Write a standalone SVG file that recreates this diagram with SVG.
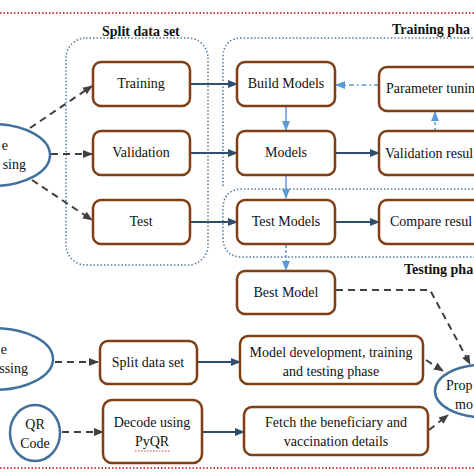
<svg xmlns="http://www.w3.org/2000/svg" width="474" height="474" viewBox="0 0 474 474">
<style>
.box{fill:#fff;stroke:#7f3f12;stroke-width:2.5}
.ell{fill:#fff;stroke:#41719c;stroke-width:2.5}
.t{font-family:"Liberation Serif","Times New Roman",serif;font-size:14px;fill:#111;text-anchor:middle}
.ts{font-family:"Liberation Serif","Times New Roman",serif;font-size:14px;fill:#111}
.h{font-family:"Liberation Serif","Times New Roman",serif;font-size:14px;font-weight:bold;fill:#111}
.cont{fill:none;stroke:#5a7a95;stroke-width:1.5;stroke-dasharray:1.5 2}
.red{stroke:#c00000;stroke-width:1.5;stroke-dasharray:1.5 2}
.solid{fill:none;stroke:#2d4e6e;stroke-width:2;marker-end:url(#ad)}
.dash{fill:none;stroke:#404040;stroke-width:2;stroke-dasharray:7 5;marker-end:url(#ag)}
.lb{fill:none;stroke:#5b9bd5;stroke-width:1.5;marker-end:url(#al)}
</style>
<defs>
<marker id="ad" markerWidth="10" markerHeight="10" refX="9" refY="5" orient="auto" markerUnits="userSpaceOnUse"><path d="M0,1 L10,5 L0,9 Z" fill="#2d4e6e"/></marker>
<marker id="ag" markerWidth="10" markerHeight="10" refX="9" refY="5" orient="auto" markerUnits="userSpaceOnUse"><path d="M0,1 L10,5 L0,9 Z" fill="#404040"/></marker>
<marker id="al" markerWidth="10" markerHeight="10" refX="9" refY="5" orient="auto" markerUnits="userSpaceOnUse"><path d="M0,1 L10,5 L0,9 Z" fill="#5b9bd5"/></marker>
</defs>
<rect width="474" height="474" fill="#fff"/>
<line x1="0" y1="13" x2="474" y2="13" class="red"/>
<line x1="0" y1="468" x2="474" y2="468" class="red"/>

<g id="containers">
<rect x="66" y="38" width="142" height="227" rx="20" class="cont"/>
<path d="M223,186 V58 Q223,38 243,38 H480" class="cont"/>
<path d="M480,189 H243 Q223,189 223,209 V237 Q223,257 243,257 H480" class="cont"/>
<text x="102" y="36" class="h">Split data set</text>
<text x="392" y="34" class="h">Training pha</text>
<text x="404" y="274" class="h">Testing pha</text>
</g>

<g id="connectors">
<path d="M30,128 L92,86" class="dash"/>
<path d="M51,154 L92,154" class="dash"/>
<path d="M32,180 L92,220" class="dash"/>
<path d="M191,84 L237,84" class="solid"/>
<path d="M191,153 L237,153" class="solid"/>
<path d="M191,222 L237,222" class="solid"/>
<path d="M336,153 L379,153" class="solid"/>
<path d="M336,222 L379,222" class="solid"/>
<path d="M286,107 L286,130" class="lb"/>
<path d="M379,85 L336,85" class="lb" stroke-dasharray="5 3 1.5 3"/>
<path d="M435,131 L435,112" class="lb" stroke-dasharray="3 3"/>
<path d="M286,176 L286,198" class="lb"/>
<path d="M286,245 L286,270" class="lb" stroke-dasharray="3 2"/>
<path d="M336,290 L430,290 L470,364" class="dash"/>
<path d="M55,362 L98,362" class="dash"/>
<path d="M62,432 L103,432" class="dash"/>
<path d="M198,362 L240,362" class="solid"/>
<path d="M203,432 L244,432" class="solid"/>
<path d="M426,360 L443,371" class="dash"/>
<path d="M429,430 L448,415" class="dash"/>
</g>

<g id="n-pre1"><ellipse cx="-8" cy="155" rx="58" ry="31" class="ell"/><text x="8" y="150" class="ts" text-anchor="end">e</text><text x="26" y="169" class="ts" text-anchor="end">sing</text></g>
<g id="n-training"><rect x="93" y="62" width="97" height="44" rx="8" class="box"/><text x="141" y="88" class="t">Training</text></g>
<g id="n-validation"><rect x="93" y="131" width="97" height="44" rx="8" class="box"/><text x="141" y="157" class="t">Validation</text></g>
<g id="n-test"><rect x="93" y="200" width="97" height="44" rx="8" class="box"/><text x="141" y="226" class="t">Test</text></g>
<g id="n-build"><rect x="237" y="62" width="98" height="44" rx="8" class="box"/><text x="286" y="88" class="t">Build Models</text></g>
<g id="n-models"><rect x="237" y="131" width="98" height="44" rx="8" class="box"/><text x="286" y="157" class="t">Models</text></g>
<g id="n-testmodels"><rect x="237" y="200" width="98" height="44" rx="8" class="box"/><text x="286" y="226" class="t">Test Models</text></g>
<g id="n-param"><rect x="379" y="67" width="110" height="44" rx="8" class="box"/><text x="386" y="93" class="ts">Parameter tunin</text></g>
<g id="n-valres"><rect x="379" y="131" width="110" height="44" rx="8" class="box"/><text x="385" y="158" class="ts">Validation resul</text></g>
<g id="n-compare"><rect x="379" y="200" width="110" height="44" rx="8" class="box"/><text x="390" y="226" class="ts">Compare resul</text></g>
<g id="n-best"><rect x="237" y="271" width="98" height="43" rx="8" class="box"/><text x="286" y="297" class="t">Best Model</text></g>

<g id="n-pre2"><ellipse cx="-6" cy="359" rx="59" ry="31" class="ell"/><text x="7" y="354" class="ts" text-anchor="end">e</text><text x="28" y="373" class="ts" text-anchor="end">ssing</text></g>
<g id="n-qr"><ellipse cx="35" cy="433" rx="25" ry="28" class="ell"/><text x="35" y="429" class="t">QR</text><text x="35" y="448" class="t">Code</text></g>
<g id="n-split"><rect x="100" y="341" width="97" height="43" rx="8" class="box"/><text x="148" y="367" class="t">Split data set</text></g>
<g id="n-decode"><rect x="103" y="400" width="99" height="63" rx="9" class="box"/><text x="152" y="427" class="t">Decode using</text><text x="152" y="446" class="t">PyQR</text><line x1="135" y1="451" x2="170" y2="451" stroke="#d04040" stroke-width="1" stroke-dasharray="1.5 1.5"/></g>
<g id="n-modeldev"><rect x="240" y="336" width="183" height="48" rx="8" class="box"/><text x="331" y="357" class="t">Model development, training</text><text x="331" y="376" class="t">and testing phase</text></g>
<g id="n-fetch"><rect x="244" y="407" width="184" height="48" rx="8" class="box"/><text x="336" y="427" class="t">Fetch the beneficiary and</text><text x="336" y="446" class="t">vaccination details</text></g>
<g id="n-proposed"><ellipse cx="482" cy="391" rx="47" ry="26" class="ell"/><text x="446" y="390" class="ts">Prop</text><text x="455" y="409" class="ts">mo</text></g>
</svg>
